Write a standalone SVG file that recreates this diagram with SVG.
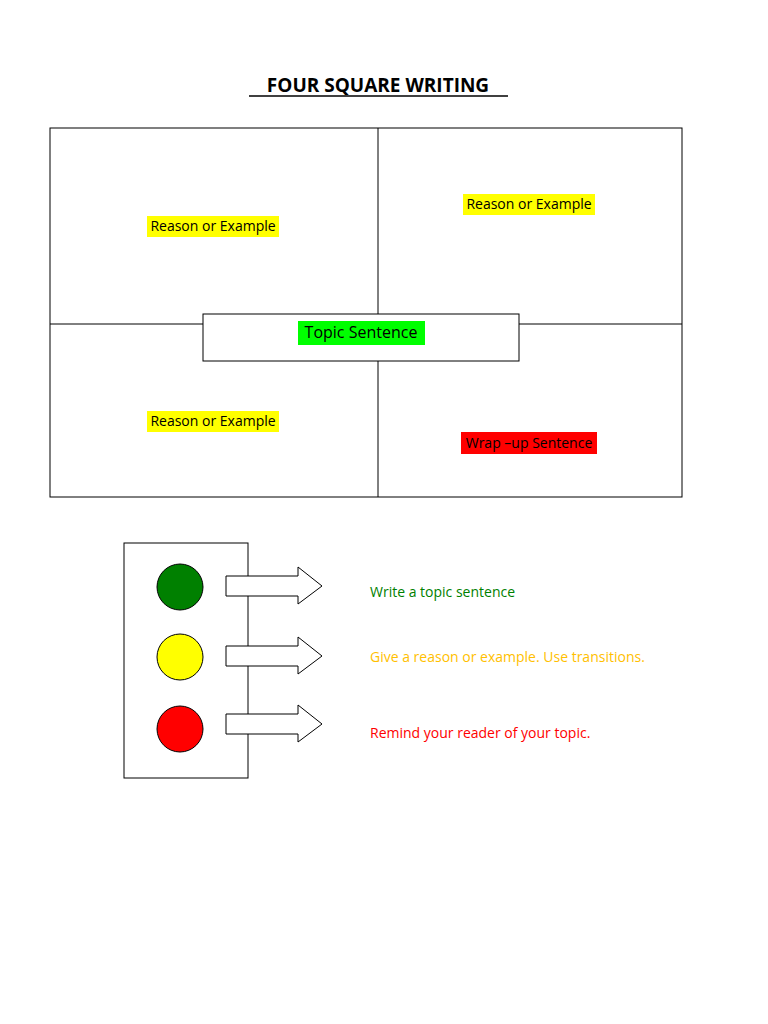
<svg xmlns="http://www.w3.org/2000/svg" width="768" height="1024" viewBox="0 0 768 1024">
<style>
.ln{stroke:#000;stroke-width:1;fill:none}
.t{font-family:"Comic Sans MS","Open Sans","Liberation Sans",sans-serif;font-size:14px}
.arr{fill:#fff;stroke:#000;stroke-width:1}
</style>
<rect width="768" height="1024" fill="#fff"/>
<text x="378" y="92" text-anchor="middle" style="font-family:'Open Sans','Liberation Sans',sans-serif;font-size:19px;font-weight:bold">FOUR SQUARE WRITING</text>
<line x1="249" y1="96" x2="508" y2="96" stroke="#000" stroke-width="1.5"/>
<g id="grid">
<rect class="ln" x="50" y="128" width="632" height="369"/>
<line class="ln" x1="378" y1="128" x2="378" y2="497"/>
<line class="ln" x1="50" y1="324" x2="682" y2="324"/>
</g>
<g id="q1"><rect x="147" y="216" width="132" height="21" fill="#ffff00"/><text class="t" x="213" y="231" text-anchor="middle">Reason or Example</text></g>
<g id="q2"><rect x="463" y="194" width="132" height="21" fill="#ffff00"/><text class="t" x="529" y="209" text-anchor="middle">Reason or Example</text></g>
<g id="q3"><rect x="147" y="411" width="132" height="21" fill="#ffff00"/><text class="t" x="213" y="426" text-anchor="middle">Reason or Example</text></g>
<g id="q4"><rect x="461" y="432" width="136" height="22" fill="#ff0000"/><text class="t" x="529" y="448" text-anchor="middle">Wrap –up Sentence</text></g>
<g id="topic"><rect x="203" y="314" width="316" height="47" fill="#fff" stroke="#000"/><rect x="298" y="321" width="127" height="24" fill="#00ff00"/><text class="t" x="361" y="338" text-anchor="middle" style="font-size:16px">Topic Sentence</text></g>
<g id="light">
<rect class="ln" x="124" y="543" width="124" height="235"/>
<circle cx="180" cy="587" r="23" fill="#008000" stroke="#000"/>
<circle cx="180" cy="657" r="23" fill="#ffff00" stroke="#000"/>
<circle cx="180" cy="729" r="23" fill="#ff0000" stroke="#000"/>
</g>
<g id="connectors">
<polygon class="arr" points="226,576 298,576 298,567 322,586 298,604 298,596 226,596"/>
<polygon class="arr" points="226,646 298,646 298,637 322,656 298,674 298,666 226,666"/>
<polygon class="arr" points="226,714 298,714 298,705 322,724 298,742 298,734 226,734"/>
</g>
<text class="t" x="370" y="597" fill="#008000">Write  a topic sentence</text>
<text class="t" x="370" y="662" fill="#ffc000">Give a reason or example.  Use transitions.</text>
<text class="t" x="370" y="738" fill="#ff0000">Remind your reader of your topic.</text>
</svg>
